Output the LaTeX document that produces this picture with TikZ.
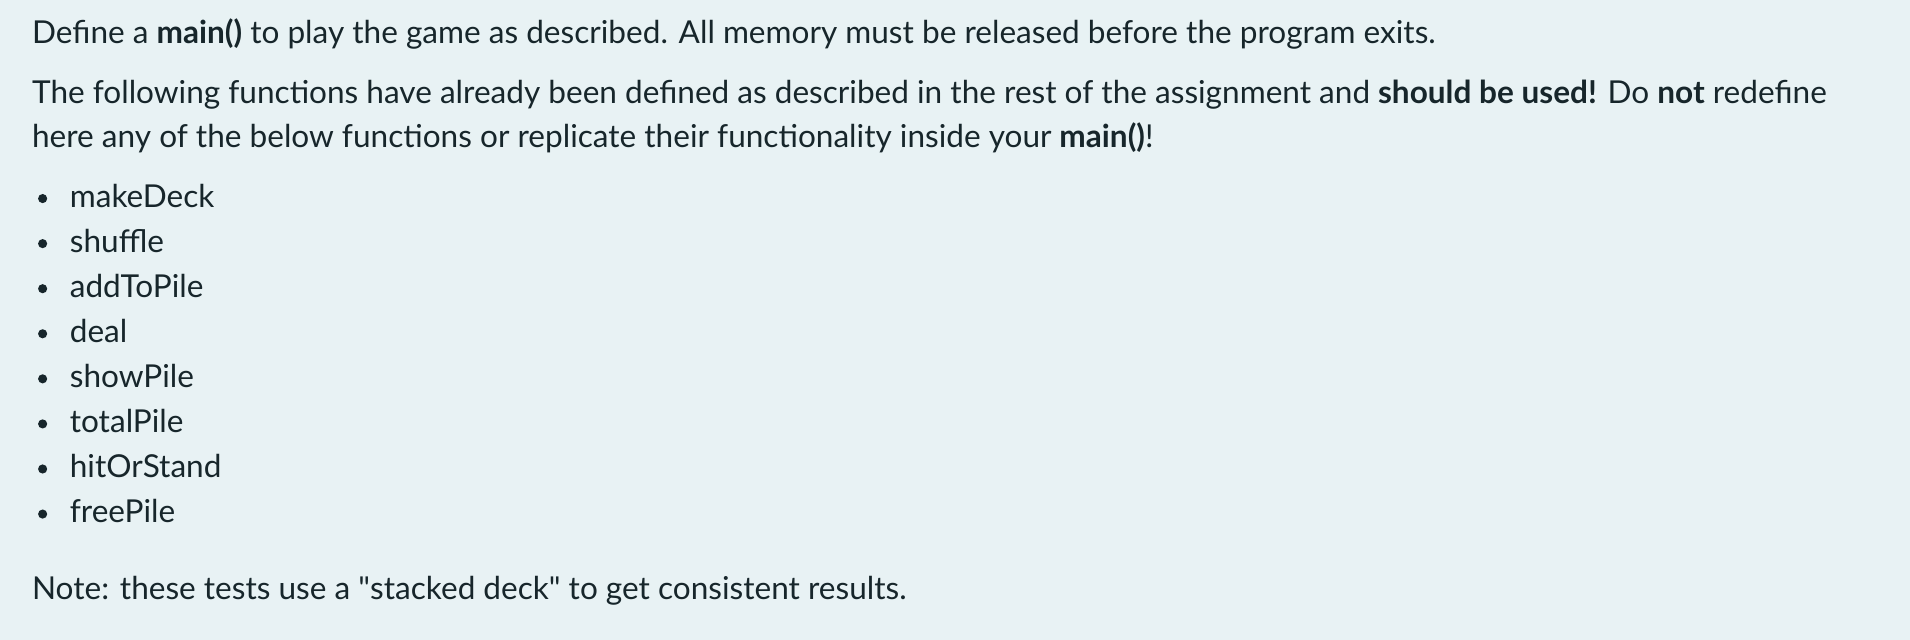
\documentclass[tikz,border=0pt]{standalone}
\usepackage{fontspec}
\setmainfont{Lato}
\definecolor{bgblue}{HTML}{E8F2F4}
\definecolor{inktext}{HTML}{17262B}
\begin{document}
\begin{tikzpicture}[x=0.02cm,y=-0.02cm,
    txt/.style={anchor=base west, inner sep=0pt, text=inktext, font=\fontsize{14.75}{17}\selectfont},
    dot/.style={circle, fill=inktext, inner sep=0pt, minimum size=0.15cm}]
    % Fondo
    \fill[bgblue] (0,0) rectangle (1568,525);
    \useasboundingbox (0,0) rectangle (1568,525);

    % Paragrafi
    \node[txt] (intro) at (26,36) {Define a \textbf{main()} to play the game as described. All memory must be released before the program exits.};
    \node[txt] (used) at (26,85) {The following functions have already been defined as described in the rest of the assignment and \textbf{should be used!} Do \textbf{not} redefine};
    \node[txt] (usedb) at (26,121) {here any of the below functions or replicate their functionality inside your \textbf{main()}!};

    % Elenco delle funzioni
    \foreach \name/\y in {makeDeck/170, shuffle/207, addToPile/244, deal/281, showPile/318, totalPile/355, hitOrStand/392, freePile/429} {
        \node[dot] (b-\name) at (35,\y-7) {};
        \node[txt] (f-\name) at (57,\y) {\name};
    }

    % Nota
    \node[txt] (note) at (26,492) {Note: these tests use a \textquotedbl stacked deck\textquotedbl{} to get consistent results.};
\end{tikzpicture}
\end{document}
